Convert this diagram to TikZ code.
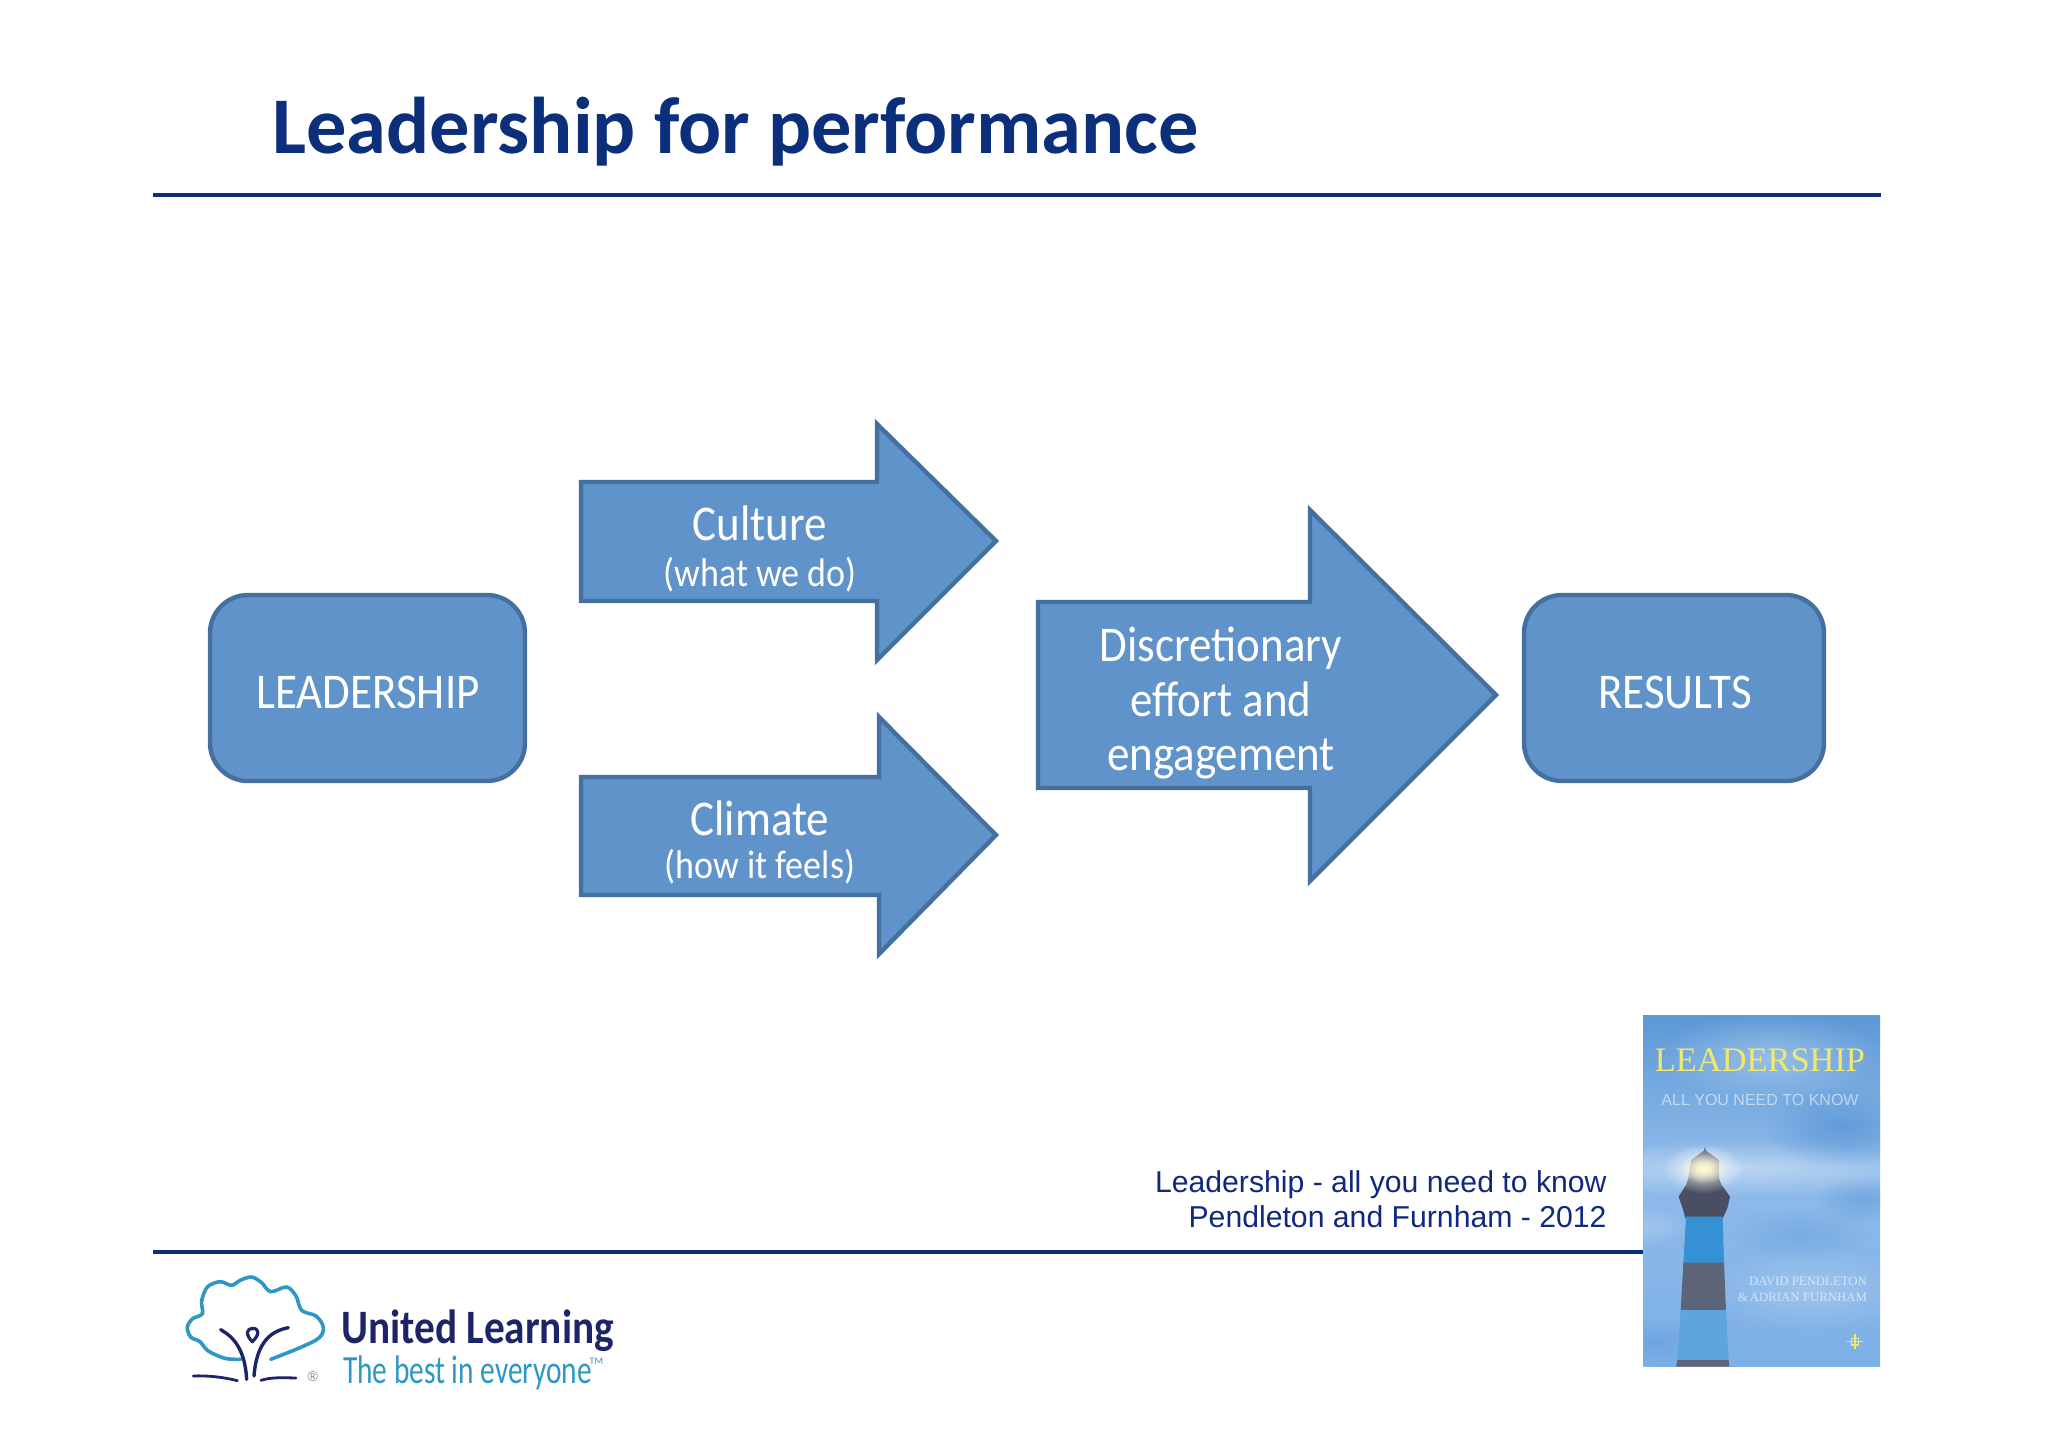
\documentclass[tikz,border=0pt]{standalone}
\usepackage{fontspec}
\usetikzlibrary{fadings}
\setmainfont{Carlito}
\newfontfamily\capfont{Liberation Sans}
\newfontfamily\coverfont{Liberation Serif}
\newfontfamily\bodyfont[FakeStretch=.9]{Carlito}
\newfontfamily\logofont[FakeStretch=.86]{Carlito}
\newfontfamily\tagfont[FakeStretch=.735]{Carlito}
\definecolor{boxfill}{HTML}{6093C9}
\definecolor{boxline}{HTML}{44709F}
\definecolor{navy}{HTML}{0B2F7B}
\definecolor{capnavy}{HTML}{10287F}
\definecolor{logonavy}{HTML}{1E2468}
\definecolor{logoblue}{HTML}{2E97C4}
\definecolor{towerblue}{HTML}{3590D4}
\definecolor{towerdark}{HTML}{5E6478}
\definecolor{towerhead}{HTML}{4A4E62}
\definecolor{coveryellow}{HTML}{EFE96C}
\definecolor{skytop}{HTML}{5C98D6}
\definecolor{skymid}{HTML}{8FBBEA}
\definecolor{skylow}{HTML}{7DB0E6}
\tikzfading[name=softglow,inner color=transparent!0,outer color=transparent!100]
\tikzset{
  shapebox/.style={fill=boxfill,draw=boxline,line width=2.2pt,line join=miter},
  bigtext/.style={text=white,anchor=base,font=\bodyfont\fontsize{25}{30}\selectfont},
  subtext/.style={text=white,anchor=base,font=\bodyfont\fontsize{20}{25}\selectfont},
  rule/.style={draw=navy,line width=1.8pt},
  captext/.style={text=capnavy,anchor=base east,font=\capfont\fontsize{15.1}{18}\selectfont},
  logoline/.style={draw=logonavy,line cap=round,line join=round},
}
\begin{document}
\begin{tikzpicture}[x=0.5pt,y=-0.5pt]
\useasboundingbox (0,0) rectangle (2048,1447);
\fill[white] (0,0) rectangle (2048,1447);
% title and rules
\node[anchor=base west,inner sep=0pt,text=navy,font=\bfseries\fontsize{40.2}{46}\selectfont] (title) at (272,153) {Leadership for performance};
\coordinate (t1) at (153,195); \coordinate (t2) at (1881,195);
\coordinate (f1) at (153,1252); \coordinate (f2) at (1643,1252);
\draw[rule] (t1) -- (t2);
\draw[rule] (f1) -- (f2);
% boxes
\draw[shapebox,rounded corners=19pt] (210,595) rectangle (525,781);
\node[bigtext] (leader) at (368,708) {LEADERSHIP};
\draw[shapebox,rounded corners=19pt] (1524,595) rectangle (1824,781);
\node[bigtext] (results) at (1675,708) {RESULTS};
% arrows
\draw[shapebox] (581,482) -- (877,482) -- (877,424) -- (996,541) -- (877,660) -- (877,601) -- (581,601) -- cycle;
\node[bigtext] (culture) at (760,540) {Culture};
\node[subtext] (cultsub) at (760,586) {(what we do)};
\draw[shapebox] (581,777) -- (879,777) -- (879,717) -- (996,835) -- (879,954) -- (879,895) -- (581,895) -- cycle;
\node[bigtext] (climate) at (760,835) {Climate};
\node[subtext] (climsub) at (760,878) {(how it feels)};
\draw[shapebox] (1038,602) -- (1310,602) -- (1310,510) -- (1496,695) -- (1310,881) -- (1310,788) -- (1038,788) -- cycle;
\node[bigtext] (d1) at (1221,661) {Discretionary};
\node[bigtext] (d2) at (1221,716) {effort and};
\node[bigtext] (d3) at (1221,770) {engagement};
% caption
\node[captext,inner sep=0pt] (cap1) at (1607,1192) {Leadership - all you need to know};
\node[captext,inner sep=0pt] (cap2) at (1607,1227) {Pendleton and Furnham - 2012};
% book cover, drawn in the crop's coordinates
\begin{scope}[shift={(1620,1000)},x=0.5pt/3,y=-0.5pt/3]
  \begin{scope}
    \clip (70,47) rectangle (780,1098);
    \fill[top color=skytop,bottom color=skymid] (68,46) rectangle (780,500);
    \fill[top color=skymid,bottom color=skylow] (68,500) rectangle (780,1098);
    \fill[white,opacity=.4,path fading=softglow] (-300,420) rectangle (1000,590);
    \fill[white,opacity=.3,path fading=softglow] (100,40) rectangle (800,300);
    \fill[skytop,opacity=.85,path fading=softglow] (430,260) rectangle (900,500);
    \fill[white,opacity=.22,path fading=softglow] (250,740) rectangle (900,1000);
    \fill[skytop,opacity=.55,path fading=softglow] (580,530) rectangle (880,670);
    \fill[skytop,opacity=.45,path fading=softglow] (-100,950) rectangle (300,1100);
    \fill[skytop,opacity=.35,path fading=softglow] (320,620) rectangle (760,780);
    \fill[white,opacity=.2,path fading=softglow] (-60,620) rectangle (220,740);
    % lighthouse
    \fill[towerhead] (255,440) -- (258,452) -- (297,480) -- (297,535) -- (305,555) -- (330,590) -- (322,625) -- (308,655) -- (196,655) -- (188,625) -- (176,590) -- (198,555) -- (205,535) -- (213,480) -- (252,452) -- cycle;
    \fill[towerblue] (198,650) -- (308,650) -- (312,790) -- (190,790) -- cycle;
    \fill[towerdark] (190,788) -- (312,788) -- (318,932) -- (182,932) -- cycle;
    \fill[towerblue!80!white] (182,930) -- (318,930) -- (326,1082) -- (172,1082) -- cycle;
    \fill[towerdark] (172,1080) -- (326,1080) -- (328,1100) -- (168,1100) -- cycle;
    \fill[white,opacity=.9,path fading=softglow] (130,430) rectangle (370,580);
    \fill[white!80!yellow,path fading=softglow] (180,460) rectangle (320,550);
  \end{scope}
  \node[text=coveryellow,font=\coverfont\fontsize{17.2}{20}\selectfont] (covt) at (420,182) {LEADERSHIP};
  \node[text=white,opacity=.55,font=\capfont\fontsize{8}{9}\selectfont] (covs) at (420,300) {ALL YOU NEED TO KNOW};
  \node[anchor=east,inner sep=0pt,text=white,opacity=.6,font=\coverfont\fontsize{6.4}{7}\selectfont] (cova1) at (742,845) {DAVID PENDLETON};
  \node[anchor=east,inner sep=0pt,text=white,opacity=.6,font=\coverfont\fontsize{6.4}{7}\selectfont] (cova2) at (742,892) {\&\,ADRIAN FURNHAM};
  \draw[coveryellow,line width=.6pt] (705,1003) -- (705,1047) (680,1025) -- (730,1025);
  \draw[coveryellow,line width=.6pt] (695,1015) rectangle (715,1035);
\end{scope}
% logo, drawn in the crop's coordinates
\begin{scope}[shift={(150,1251)},x=0.5pt/3,y=-0.5pt/3]
  \draw[logoblue,line width=1.8pt,line cap=round] plot[smooth,tension=.55] coordinates {(272,325) (225,322) (175,300) (150,272) (122,258) (112,228) (128,203) (157,188) (155,150) (172,108) (210,92) (245,103) (270,88) (305,78) (335,95) (362,122) (410,108) (438,135) (455,178) (498,195) (520,228) (508,260) (450,290) (362,325)};
  \draw[logoline,line width=1.7pt] (212,236) .. controls (255,260) and (285,300) .. (290,385);
  \draw[logoline,line width=1.7pt] (415,230) .. controls (365,240) and (320,270) .. (312,375);
  \draw[logoline,line width=1.6pt] (307,272) .. controls (285,250) and (290,232) .. (308,232) .. controls (328,232) and (330,250) .. cycle;
  \draw[logoline,line width=1.4pt] (130,375) .. controls (170,373) and (220,378) .. (262,389);
  \draw[logoline,line width=1.4pt] (333,388) .. controls (365,378) and (400,380) .. (438,381);
  \node[text=gray,font=\capfont\fontsize{7}{8}\selectfont,inner sep=0pt] (reg) at (488,378) {®};
  \node[anchor=base west,inner sep=0pt,text=logonavy,font=\logofont\bfseries\fontsize{24}{26}\selectfont] (logo1) at (573,277) {United Learning};
  \node[anchor=base west,inner sep=0pt,text=logoblue,font=\tagfont\fontsize{20}{24}\selectfont] (logo2) at (578,398) {The best in everyone};
  \node[anchor=base west,inner sep=0pt,text=logoblue,font=\fontsize{5}{6}\selectfont] (logo3) at (1318,340) {TM};
\end{scope}
\end{tikzpicture}
\end{document}
